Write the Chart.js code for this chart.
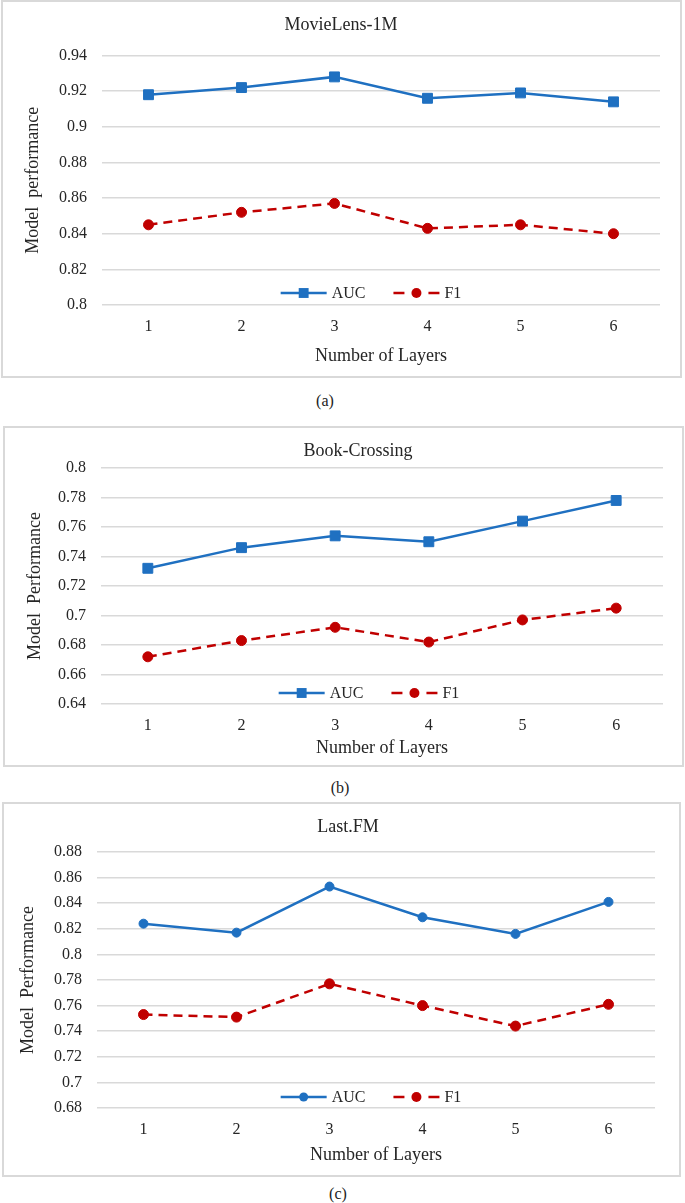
<!DOCTYPE html>
<html>
<head>
<meta charset="utf-8">
<script src="https://cdn.jsdelivr.net/npm/chart.js@4.4.1/dist/chart.umd.min.js"></script>
<style>
  body { margin: 0; background: #fff; width: 685px; height: 1203px; overflow: hidden; position: relative;
         font-family: "Liberation Serif", "Times New Roman", serif; }
  .box { position: absolute; border: 2px solid #d9d9d9; box-sizing: border-box; }
  .box div { position: relative; width: 100%; height: 100%; }
  .cap { position: absolute; font-size: 16px; color: #222; transform: translate(-50%, -50%); }
</style>
</head>
<body>
<div class="box" style="left:1px;top:0;width:681px;height:378px"><div><canvas id="c1"></canvas></div></div>
<div class="cap" style="left:325px;top:401px">(a)</div>
<div class="box" style="left:3px;top:426px;width:681px;height:341px"><div><canvas id="c2"></canvas></div></div>
<div class="cap" style="left:340px;top:788px">(b)</div>
<div class="box" style="left:2px;top:802px;width:679px;height:375px"><div><canvas id="c3"></canvas></div></div>
<div class="cap" style="left:338px;top:1194px">(c)</div>

<script>
const layers = ['1', '2', '3', '4', '5', '6'];

const movieAuc = [0.918, 0.922, 0.928, 0.916, 0.919, 0.914];
const movieF1  = [0.845, 0.852, 0.857, 0.843, 0.845, 0.840];

const bookAuc = [0.732, 0.746, 0.754, 0.750, 0.764, 0.778];
const bookF1  = [0.672, 0.683, 0.692, 0.682, 0.697, 0.705];

const lastAuc = [0.824, 0.817, 0.853, 0.829, 0.816, 0.841];
const lastF1  = [0.753, 0.751, 0.777, 0.760, 0.744, 0.761];

const SERIF = '"Liberation Serif", "Times New Roman", serif';
const BLUE = '#1f70c1';
const RED = '#c00000';
const TXT = '#262626';

// legend drawn inside the plot area, like the Excel original
const insideLegend = {
  id: 'insideLegend',
  afterDatasetsDraw(chart, args, opts) {
    const ctx = chart.ctx;
    ctx.save();
    ctx.font = '16px ' + SERIF;
    const lineW = 46, gap = 5, space = 28;
    const items = chart.data.datasets.map(ds => ({ ds, w: ctx.measureText(ds.label).width }));
    const total = items.reduce((s, it) => s + lineW + gap + it.w, 0) + space * (items.length - 1);
    let x = opts.cx - total / 2;
    const y = opts.y;
    items.forEach(it => {
      const ds = it.ds;
      ctx.strokeStyle = ds.borderColor;
      ctx.lineWidth = ds.borderWidth;
      ctx.lineCap = 'butt';
      ctx.beginPath();
      if (ds.borderDash) {
        ctx.moveTo(x, y); ctx.lineTo(x + 11, y);
        ctx.moveTo(x + lineW - 11, y); ctx.lineTo(x + lineW, y);
      } else {
        ctx.moveTo(x, y); ctx.lineTo(x + lineW, y);
      }
      ctx.stroke();
      const px = x + lineW / 2, r = ds.pointRadius;
      ctx.fillStyle = ds.pointBackgroundColor;
      ctx.beginPath();
      if (ds.pointStyle === 'rect') {
        const h = r * Math.SQRT1_2;
        ctx.rect(px - h, y - h, 2 * h, 2 * h);
      } else {
        ctx.arc(px, y, r, 0, Math.PI * 2);
      }
      ctx.fill();
      ctx.fillStyle = TXT;
      ctx.textAlign = 'left';
      ctx.textBaseline = 'middle';
      ctx.fillText(ds.label, x + lineW + gap, y + 1);
      x += lineW + gap + it.w + space;
    });
    ctx.restore();
  }
};

function makePanel(id, title, yTitle, auc, f1, aucShape, yMin, yMax, L) {
  const font = { family: SERIF, size: 16 };
  const tfont = { family: SERIF, size: 18, weight: 'normal' };
  return new Chart(document.getElementById(id), {
    type: 'line',
    data: {
      labels: layers,
      datasets: [
        {
          label: 'AUC', data: auc, borderColor: BLUE, backgroundColor: BLUE,
          pointBackgroundColor: BLUE, pointBorderColor: BLUE, pointBorderWidth: 1,
          borderWidth: 2.5, pointStyle: aucShape, pointRadius: aucShape === 'rect' ? 7 : 4.5,
          tension: 0
        },
        {
          label: 'F1', data: f1, borderColor: RED, backgroundColor: RED,
          pointBackgroundColor: RED, pointBorderColor: RED, pointBorderWidth: 1,
          borderWidth: 2.5, borderDash: [9, 6], pointStyle: 'circle', pointRadius: 5,
          tension: 0
        }
      ]
    },
    options: {
      responsive: true,
      maintainAspectRatio: false,
      animation: false,
      layout: { padding: { left: L.pl, right: L.pr, top: 0, bottom: 0 } },
      plugins: {
        legend: { display: false },
        tooltip: { enabled: false },
        title: {
          display: true, text: title, font: tfont, color: TXT,
          padding: { top: L.pt, bottom: L.pb }
        },
        insideLegend: { cx: L.lx, y: L.ly }
      },
      scales: {
        x: {
          offset: true,
          grid: { display: false, offset: true },
          border: { display: false },
          ticks: { font: font, color: TXT, padding: 4 },
          title: { display: true, text: 'Number of Layers', font: tfont, color: TXT, padding: { top: 0, bottom: L.xb } },
          afterFit: s => { s.height = L.xh; }
        },
        y: {
          min: yMin, max: yMax,
          grid: { color: '#d9d9d9', lineWidth: 1.5, drawTicks: false },
          border: { display: false },
          ticks: { stepSize: 0.02, font: font, color: TXT, padding: 15, callback: v => String(+v.toFixed(2)) },
          title: { display: true, text: yTitle, font: tfont, color: TXT, padding: { top: L.yp, bottom: 0 } },
          afterFit: s => { s.width = L.yw; }
        }
      }
    },
    plugins: [insideLegend]
  });
}

makePanel('c1', 'MovieLens-1M', 'Model  performance', movieAuc, movieF1, 'rect', 0.8, 0.94,
  { pl: 19, pr: 20, yw: 80, yp: 0.2, pt: 12.2, pb: 19.7, xh: 71, xb: 9, lx: 368, ly: 291 });
makePanel('c2', 'Book-Crossing', 'Model  Performance', bookAuc, bookF1, 'rect', 0.64, 0.8,
  { pl: 48, pr: 19, yw: 48, yp: -28.8, pt: 12.2, pb: 6.2, xh: 61, xb: 6.2, lx: 364, ly: 265 });
makePanel('c3', 'Last.FM', 'Model  Performance', lastAuc, lastF1, 'circle', 0.68, 0.88,
  { pl: 37, pr: 24, yw: 56, yp: -23.3, pt: 12.2, pb: 14.2, xh: 67, xb: 9.2, lx: 367, ly: 293 });
</script>
</body>
</html>
